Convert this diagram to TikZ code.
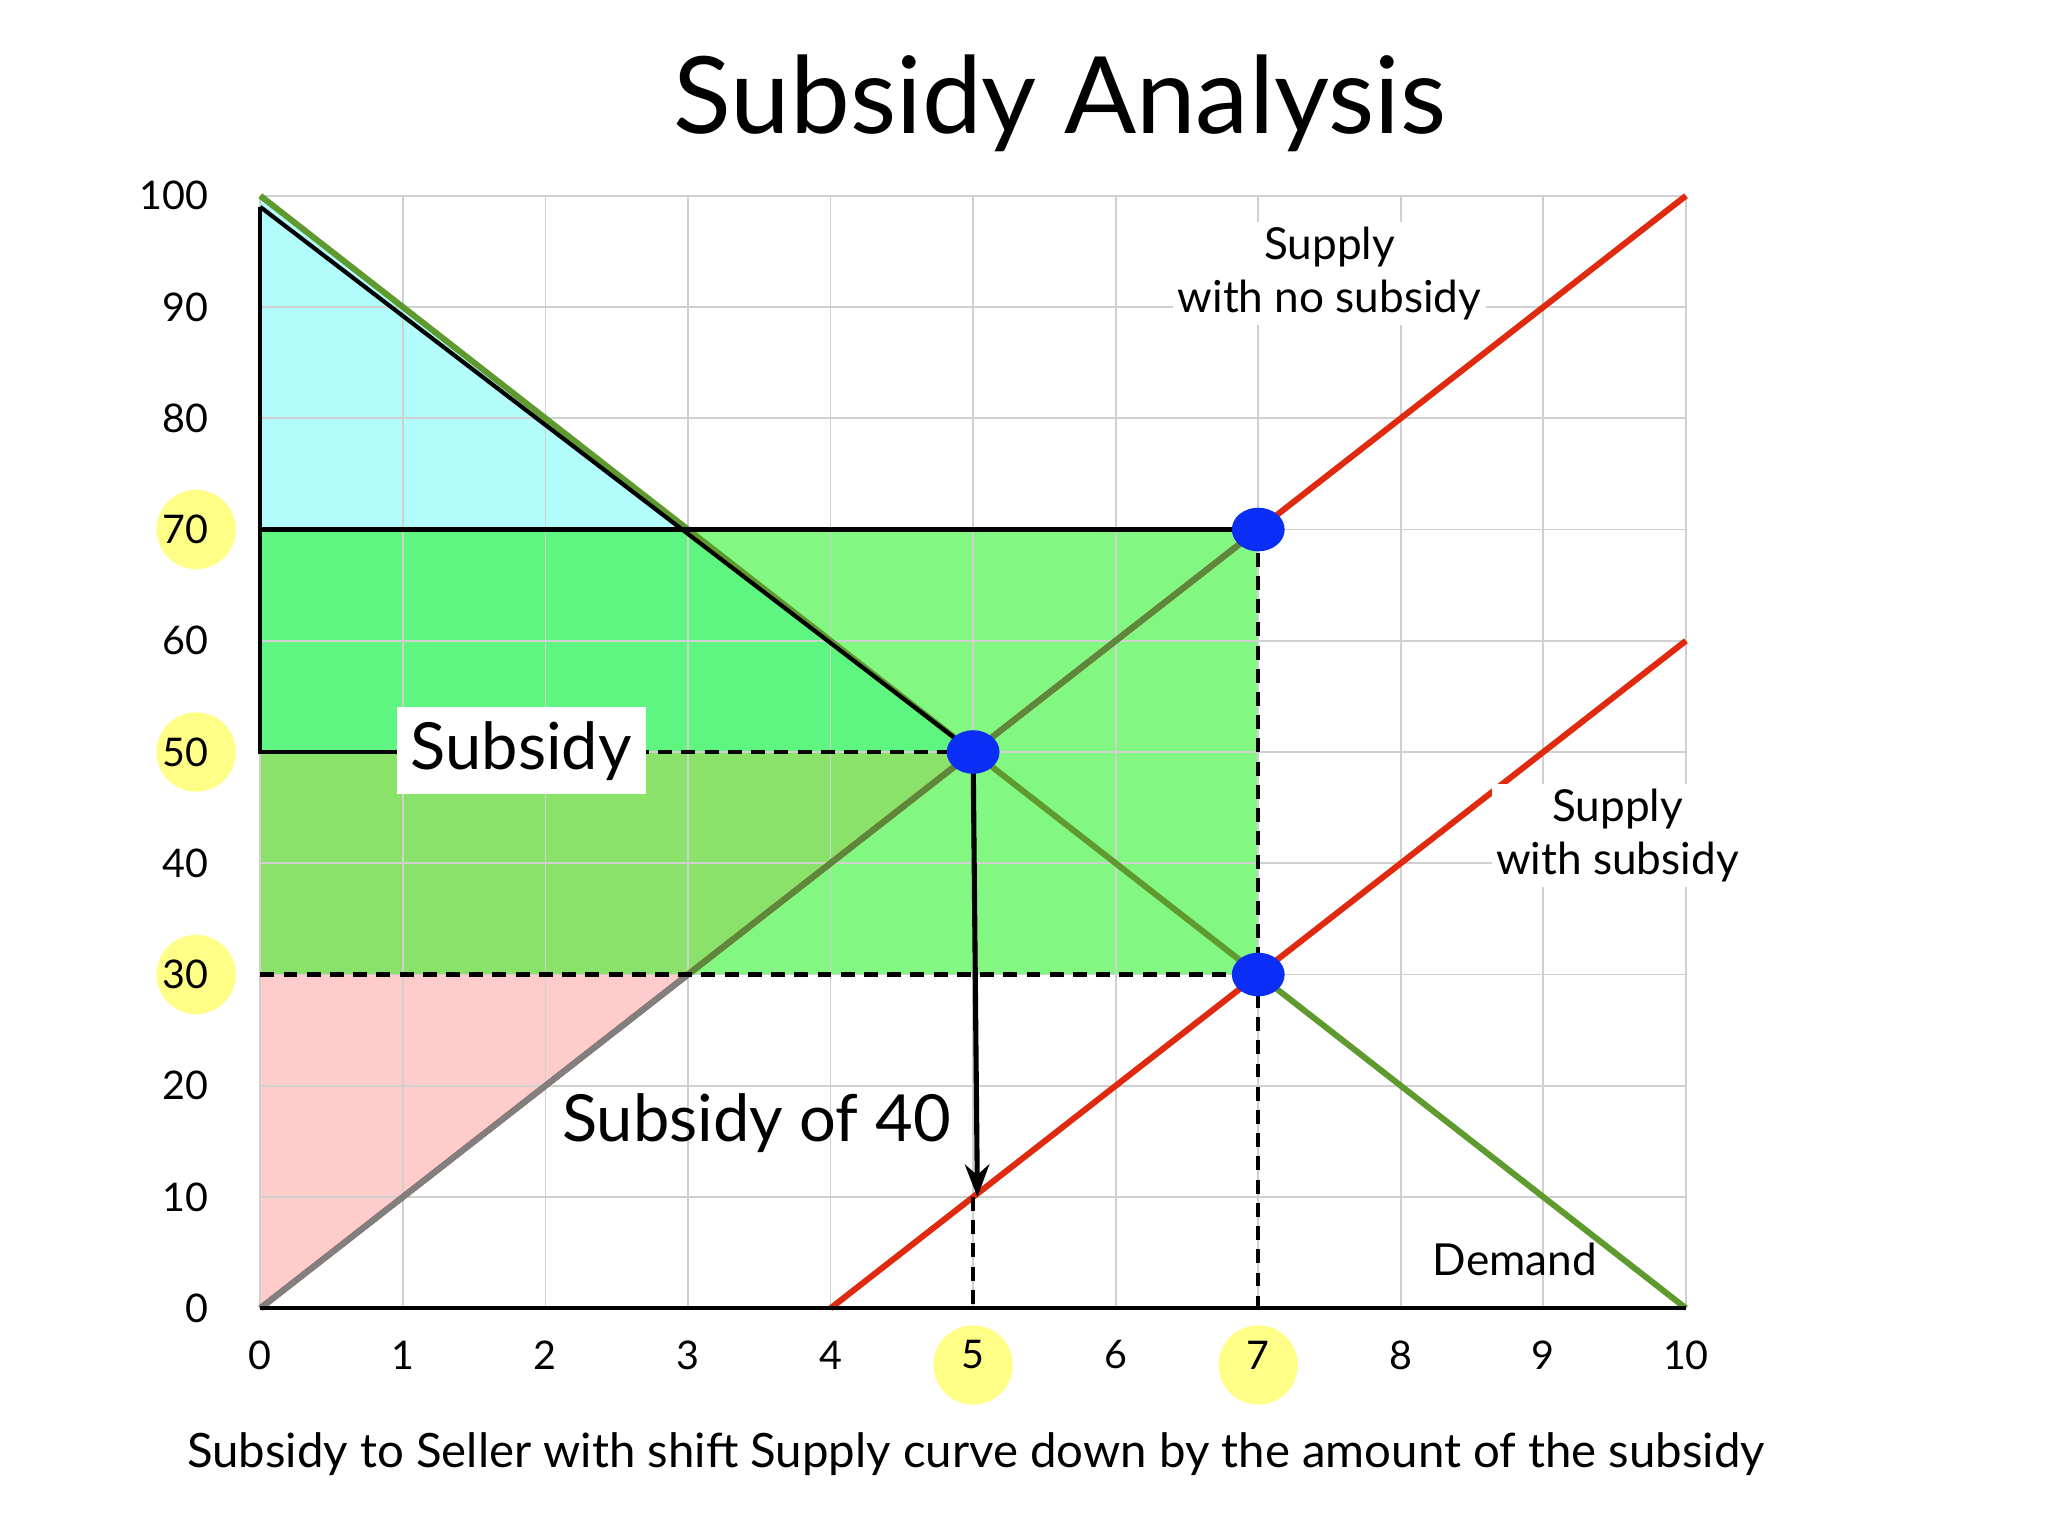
\documentclass[tikz,border=0pt]{standalone}
\usepackage{fontspec}
\setmainfont{Lato}
\usetikzlibrary{arrows.meta}
\definecolor{gridc}{HTML}{D0D0D0}
\definecolor{redc}{HTML}{E02A10}
\definecolor{demc}{HTML}{5E9A2E}
\definecolor{cyanf}{HTML}{B3FCFC}
\definecolor{greenf}{HTML}{82F882}
\definecolor{greend}{HTML}{5EF580}
\definecolor{greeno}{HTML}{8AE26A}
\definecolor{pinkf}{HTML}{FFCCCC}
\definecolor{dotc}{HTML}{0A2EF5}
\definecolor{yel}{HTML}{FFFF88}
\tikzset{
 tick/.style={font=\fontsize{8.5pt}{10pt}\selectfont},
 lbl/.style={font=\fontsize{9.5pt}{11.5pt}\selectfont,align=center,fill=white,inner sep=1pt},
 big/.style={font=\fontsize{14pt}{16pt}\selectfont},
 dot/.style={fill=dotc,ellipse,minimum width=0.4cm,minimum height=0.33cm,inner sep=0},
 hl/.style={fill=yel,circle,minimum size=0.6cm,inner sep=0},
 dsh/.style={dashed,dash pattern=on 3pt off 2pt,line width=0.9pt}
}
\usetikzlibrary{shapes.geometric}
\begin{document}
\begin{tikzpicture}[x=1.079cm,y=0.0842cm]
\useasboundingbox (-1.826,-20.43) rectangle (12.54,117.6);
% fills
\fill[cyanf] (0,100)--(0,70)--(3,70)--cycle;
\fill[greenf] (0,30) rectangle (7,70);
\fill[greend] (0,70)--(3,70)--(5,50)--(0,50)--cycle;
\fill[greeno] (0,50)--(5,50)--(3,30)--(0,30)--cycle;
\fill[pinkf] (0,0)--(0,30)--(3,30)--cycle;
% grid
\foreach \i in {0,...,10} \draw[gridc] (\i,0)--(\i,100);
\foreach \j in {0,10,...,100} \draw[gridc] (0,\j)--(10,\j);
% highlight circles
\foreach \j in {70,50,30} \node[hl] at (-0.45,\j) {};
\foreach \i in {5,7} \node[hl] at (\i,-5.1) {};
% tick labels
\foreach \j in {0,10,...,100} \node[tick,anchor=east] at (-0.25,\j) {\j};
\foreach \i in {0,...,10} \node[tick] at (\i,-4.2) {\i};
% curves
\draw[redc,line width=1.3pt] (0,0)--(10,100);
\draw[redc,line width=1.3pt] (4,0)--(10,60);
\draw[gray,line width=1.3pt] (0,0)--(3,30);
\draw[demc!80!black!90,line width=1.3pt] (3,30)--(7,70);
\draw[demc,line width=1.3pt] (0,100)--(10,0);
\draw[black,line width=0.9pt] (0,99)--(5,50);
\draw[line width=0.9pt] (0,99)--(0,50)--(1,50);
\draw[dsh] (1,50)--(5,50);
\draw[line width=0.9pt] (0,70)--(7,70);
\draw[dsh] (0,30)--(7,30);
\draw[dsh] (7,70)--(7,0);
\draw[dsh] (5,10)--(5,0);
\draw[line width=0.9pt] (0,0)--(10,0);
\draw[line width=1.1pt,-{Stealth[length=7pt]}] (5,50)--(5.03,10);
% dots
\node[dot] (p1) at (5,50) {};
\node[dot] (p2) at (7,70) {};
\node[dot] (p3) at (7,30) {};
% labels
\node[lbl] at (7.5,93) {Supply\\with no subsidy};
\node[lbl] at (9.52,42.5) {Supply\\with subsidy};
\node[lbl,fill=none] at (8.8,4.4) {Demand};
\node[big,fill=white,inner sep=3pt] at (1.83,50.1) {Subsidy};
\node[big] at (3.48,16.6) {Subsidy of 40};
\node[font=\fontsize{23pt}{27pt}\selectfont] at (5.61,108.3) {Subsidy Analysis};
\node[font=\fontsize{10.2pt}{12pt}\selectfont] at (5.02,-13.1) {Subsidy to Seller with shift Supply curve down by the amount of the subsidy};
\end{tikzpicture}
\end{document}
